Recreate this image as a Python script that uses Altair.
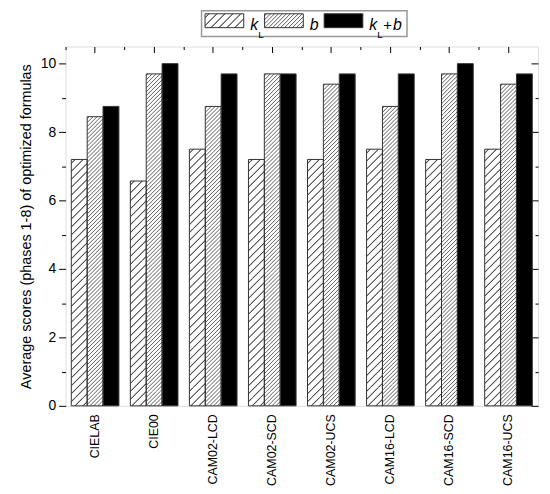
import altair as alt

categories = ["CIELAB", "CIE00", "CAM02-LCD", "CAM02-SCD", "CAM02-UCS",
              "CAM16-LCD", "CAM16-SCD", "CAM16-UCS"]
series = ["kL", "b", "kL+b"]
kL_vals = [7.2, 6.57, 7.5, 7.2, 7.2, 7.5, 7.2, 7.5]
b_vals = [8.45, 9.7, 8.75, 9.7, 9.4, 8.75, 9.7, 9.4]
kLb_vals = [8.75, 10.0, 9.7, 9.7, 9.7, 9.7, 10.0, 9.7]
y_major = [0, 2, 4, 6, 8, 10]
y_minor = [1, 3, 5, 7, 9]
y_max = 10.5

# legend label pieces
leg_main = ["k", "b", "k"]
leg_sub = ["L", "", "L"]
leg_plus = ["", "", "+"]
leg_tail = ["", "", "b"]

W, H = 476, 362
FONT = "Liberation Sans"
GROUP_PAD = 0.36
SEG_PX = 40.0  # hatch tile height (multiple of every hatch period)

# hatch styles (period along a vertical, flat core width, line colour)
hatch_style = {"kL": (8.0, 0.5, "#555555"), "b": (4.0, 0.15, "#707070")}


def hatch(w, h, period, core, color):
    """Soft-edged diagonal hatch as a linear gradient (t = (X+Y)/(w+h))."""
    L = w + h
    c = L / (w * w + h * h)

    def off(v):
        return round(min(max(v / L, 0.0), 1.0), 6)

    stops = [{"offset": 0, "color": "white"}]
    centre = period * 0.5
    while centre - 1 - core / 2 < L:
        a, b1 = centre - 1 - core / 2, centre - core / 2
        b2, e = centre + core / 2, centre + 1 + core / 2
        stops += [{"offset": off(a), "color": "white"},
                  {"offset": off(b1), "color": color},
                  {"offset": off(b2), "color": color},
                  {"offset": off(e), "color": "white"}]
        centre += period
    stops.append({"offset": 1, "color": "white"})
    return {"gradient": "linear", "x1": 0, "y1": 0, "x2": w * c, "y2": h * c,
            "stops": stops}


px_per_unit = H / y_max
bar_w = (W / len(categories)) / (len(series) + 2 * GROUP_PAD)

bar_rows = []
tile_rows = []
for s, vals in zip(series, [kL_vals, b_vals, kLb_vals]):
    for cat, v in zip(categories, vals):
        bar_rows.append({"category": cat, "series": s, "value": v})
        if s == "kL+b":
            tile_rows.append({"category": cat, "series": s, "lo": 0, "hi": v,
                              "grad": "black"})
            continue
        p, core, col = hatch_style[s]
        top = v
        seg_u = SEG_PX / px_per_unit
        while top > 1e-9:
            bot = max(top - seg_u, 0.0)
            tile_rows.append({"category": cat, "series": s, "lo": bot, "hi": top,
                              "grad": hatch(bar_w, (top - bot) * px_per_unit,
                                            p, core, col)})
            top = bot

leg_rows = []
for i, s in enumerate(series):
    if s == "kL+b":
        g = "black"
    else:
        p, core, col = hatch_style[s]
        g = hatch(39, 14, p, core, col)
    leg_rows.append({"series": s, "main": leg_main[i], "sub": leg_sub[i],
                     "plus": leg_plus[i], "tail": leg_tail[i], "grad": g})

bar_data = alt.Data(values=bar_rows)
tile_data = alt.Data(values=tile_rows)
leg_data = alt.Data(values=leg_rows)

xscale = alt.Scale(domain=categories, paddingInner=0, paddingOuter=0)
yscale = alt.Scale(domain=[0, y_max], nice=False, zero=True)
xoff = alt.XOffset("series:N", sort=series,
                   scale=alt.Scale(domain=series, paddingOuter=GROUP_PAD,
                                   paddingInner=0))


def yenc(axis, field="value"):
    return alt.Y(f"{field}:Q", scale=yscale, stack=None, axis=axis)


def xenc(axis):
    return alt.X("category:N", sort=categories, scale=xscale, axis=axis)


tiles = alt.Chart(tile_data).mark_bar(strokeWidth=0).encode(
    x=xenc(None),
    xOffset=xoff,
    y=yenc(None, "lo"),
    y2="hi:Q",
    fill=alt.Fill("grad:N", scale=None),
)

outline = alt.Chart(bar_data).mark_bar(
    fillOpacity=0, stroke="#333333", strokeWidth=1).encode(
    x=xenc(alt.Axis(orient="bottom", title=None, labelAngle=-90, ticks=False,
                    domain=False, labelPadding=8, labelFontSize=12.5,
                    labelFont=FONT, labelColor="black")),
    xOffset=xoff,
    y=yenc(alt.Axis(orient="left", values=y_major, tickSize=7, domain=False,
                    grid=False, labelFontSize=14, labelFont=FONT,
                    labelColor="black", labelPadding=3, tickColor="black",
                    title="Average scores (phases 1-8) of optimized formulas",
                    titleFontSize=14.5, titleFont=FONT, titleFontWeight="normal",
                    titleColor="black", titlePadding=7)),
)

inv = alt.Chart(bar_data).mark_bar(opacity=0)
axC = inv.encode(
    x=xenc(alt.Axis(orient="bottom", offset=-H, bandPosition=0.5, tickSize=6,
                    labels=False, domain=False, title=None, tickColor="black")),
    y=yenc(alt.Axis(orient="left", values=y_minor, tickSize=4, labels=False,
                    domain=False, grid=False, title=None, tickColor="black")),
)
axD = inv.encode(
    x=xenc(alt.Axis(orient="bottom", offset=-H, bandPosition=0, tickSize=3,
                    labels=False, domain=False, title=None, tickColor="black")),
    y=yenc(alt.Axis(orient="left", offset=-W, values=y_major, tickSize=7,
                    labels=False, domain=False, grid=False, title=None,
                    tickColor="black")),
)
axE = inv.encode(
    x=xenc(None),
    y=yenc(alt.Axis(orient="left", offset=-W, values=y_minor, tickSize=3,
                    labels=False, domain=False, grid=False, title=None,
                    tickColor="black")),
)

legx = alt.X("series:N", sort=series,
             scale=alt.Scale(type="point", domain=series, range=[160, 280],
                             padding=0), axis=None)

leg_frame = alt.Chart(alt.Data(values=[{"f": 1}])).mark_rect(
    fill="white", stroke="#999999", strokeWidth=1.5).encode(
    x=alt.value(137), x2=alt.value(344), y=alt.value(-36), y2=alt.value(-10))

leg_sw = alt.Chart(leg_data).mark_bar(width=39, stroke="#333333",
                                      strokeWidth=1).encode(
    x=legx, y=alt.value(-33), y2=alt.value(-19),
    fill=alt.Fill("grad:N", scale=None))

txt = dict(align="left", baseline="alphabetic", font=FONT, color="black")
leg_main_t = alt.Chart(leg_data).mark_text(dx=26, fontSize=16,
                                           fontStyle="italic", **txt).encode(
    x=legx, y=alt.value(-17), text="main:N")
leg_sub_t = alt.Chart(leg_data).mark_text(dx=34, fontSize=10, **txt).encode(
    x=legx, y=alt.value(-9), text="sub:N")
leg_plus_t = alt.Chart(leg_data).mark_text(dx=40, fontSize=15, **txt).encode(
    x=legx, y=alt.value(-17), text="plus:N")
leg_tail_t = alt.Chart(leg_data).mark_text(dx=50, fontSize=16,
                                           fontStyle="italic", **txt).encode(
    x=legx, y=alt.value(-17), text="tail:N")

chart = alt.layer(
    leg_frame, tiles, outline, axC, axD, axE, leg_sw, leg_main_t, leg_sub_t,
    leg_plus_t, leg_tail_t
).resolve_scale(x="independent").resolve_axis(
    x="independent", y="independent"
).properties(
    width=W, height=H,
    padding={"left": 10, "top": 0, "right": 3, "bottom": 5},
).configure_view(
    stroke="black", strokeWidth=1.5
).configure(background="white")

chart.save("out.html", embed_options={"renderer": "svg", "actions": False})
